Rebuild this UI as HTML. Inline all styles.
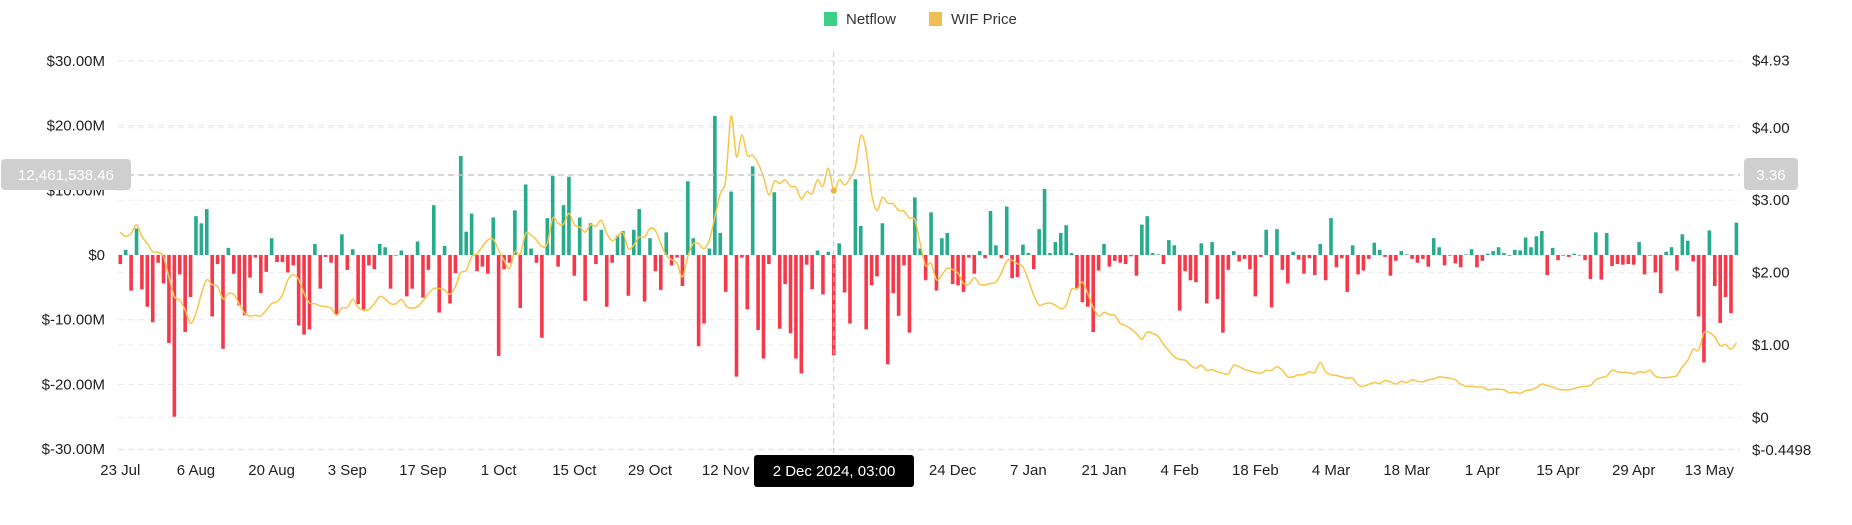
<!DOCTYPE html>
<html><head><meta charset="utf-8"><style>
html,body{margin:0;padding:0;background:#fff;}
svg{display:block;font-family:"Liberation Sans",sans-serif;}
</style></head><body>
<svg id="chart" width="1852" height="525" viewBox="0 0 1852 525">
  <g id="legend">
    <g>
      <rect x="824" y="12" width="13" height="14" fill="#3ccf86"/>
      <text x="846" y="24" font-size="15" fill="#333">Netflow</text>
    </g>
    <g>
      <rect x="929" y="12" width="13" height="14" fill="#eec053"/>
      <text x="951" y="24" font-size="15" fill="#333">WIF Price</text>
    </g>
  </g>
  <g id="grid"></g>
  <g id="leftAxis"></g>
  <g id="rightAxis"></g>
  <g id="xAxis"></g>
  <g id="bars"></g>
  <path id="priceLine" fill="none" stroke="#f7c548" stroke-width="1.5"/>
  <g id="crosshair"></g>
</svg>
<script>
const netflow = [
-1.4,0.8,-5.5,4.1,-5.3,-8.0,-10.4,-1.2,-4.4,-13.6,-25,-3.0,-11.9,-6.5,6.0,4.9,7.1,-9.5,-1.4,-14.5,1.1,-2.9,-7.8,-9.3,-3.5,-0.4,-5.9,-2.6,2.6,-1.1,-1.1,-2.7,-1.6,-10.9,-12.3,-11.5,1.7,-5.2,-0.3,-1.2,-9.2,3.2,-2.3,0.9,-7.6,-8.4,-1.6,-2.2,1.7,1.2,-5.2,
-0.1,0.7,-6.4,-5.2,2.1,-6.6,-2.3,7.7,-8.9,1.4,-7.5,-2.8,15.3,3.6,6.4,-2.5,-1.8,-2.9,5.8,-15.6,-2.2,-1.2,6.9,-8.2,10.9,1.0,-1.2,-12.8,5.7,12.2,-1.8,7.7,12.1,-3.2,5.8,-7.1,4.9,-1.4,3.9,-8.0,-1.2,3.0,3.7,-6.3,3.9,7.1,-7.2,2.6,-2.5,-5.4,3.5,-1.6,
-0.4,-4.8,11.4,2.6,-14.1,-10.6,1.0,21.5,3.4,-5.7,9.8,-18.8,-0.4,-8.4,13.7,-11.6,-16.0,-1.4,9.7,-11.4,-4.5,-12.1,-16.0,-18.3,-1.5,-5.3,0.7,-6.1,0.5,-15.5,1.8,-5.8,-10.6,11.7,4.5,-11.5,-4.7,-3.3,4.9,-16.9,-5.9,-9.4,-1.6,-12.0,8.9,1.0,-3.9,6.6,-5.5,2.6,3.4,-4.5,
-4.7,-5.7,-0.4,-2.9,0.6,-0.5,6.8,1.5,-0.5,7.5,-3.6,-3.4,1.6,0.3,-2.2,4.0,10.2,0.3,2.0,3.4,4.6,0.3,-5.1,-7.3,-8.0,-11.9,-2.4,1.7,-1.8,-0.9,-1.2,-1.4,-0.2,-3.2,4.7,6.0,0.3,0.1,-1.4,2.3,1.5,-8.6,-2.5,-3.9,-4.2,1.8,-7.5,2.0,-6.8,-12.0,-2.3,0.6,
-1.0,-0.6,-2.2,-6.4,-0.3,3.9,-8.1,4.0,-2.3,-4.4,0.5,-0.7,-2.9,-0.5,-3.1,1.7,-3.9,5.7,-1.9,-0.5,-5.7,1.5,-3.0,-2.4,-0.6,1.9,0.8,-0.3,-3.2,-0.9,0.6,0.1,-0.6,-1.2,-0.6,-1.8,2.6,1.2,-1.6,-0.1,-1.3,-1.9,0.1,0.9,-1.9,-0.9,0.2,0.6,1.2,0.3,-0.1,0.8,
0.7,2.7,1.2,2.9,3.7,-3.1,1.1,-0.8,-0.1,-0.3,0.2,0,-0.8,-3.7,3.5,-3.8,3.4,-1.7,-1.4,-1.5,-1.4,-1.5,2.0,-3.0,-0.1,-2.7,-5.9,0.5,1.2,-2.4,3.2,2.2,-1.0,-9.5,-16.6,3.8,-4.8,-10.5,-6.5,-9.0,5.0
];
const price = [
2.56,2.50,2.54,2.66,2.50,2.40,2.29,2.28,2.22,1.94,1.67,1.62,1.48,1.30,1.44,1.71,1.90,1.83,1.81,1.64,1.71,1.70,1.57,1.44,1.40,1.41,1.40,1.48,1.57,1.60,1.69,1.90,1.97,1.90,1.71,1.58,1.57,1.54,1.53,1.51,1.41,1.51,1.52,1.63,1.52,1.48,1.49,1.57,1.67,1.64,1.57,
1.57,1.63,1.53,1.51,1.53,1.61,1.71,1.78,1.78,1.76,1.70,1.81,2.00,2.03,2.22,2.26,2.36,2.45,2.46,2.31,2.17,2.06,2.29,2.26,2.54,2.52,2.45,2.36,2.40,2.75,2.68,2.67,2.82,2.66,2.63,2.56,2.66,2.64,2.72,2.54,2.44,2.50,2.55,2.33,2.38,2.49,2.49,2.61,2.58,2.40,2.24,2.18,
2.13,1.94,2.22,2.40,2.40,2.33,2.45,2.77,3.09,3.28,4.16,3.60,3.90,3.62,3.62,3.51,3.32,3.07,3.26,3.23,3.28,3.19,3.18,3.02,3.12,3.09,3.28,3.19,3.44,3.13,3.28,3.21,3.30,3.46,3.89,3.69,3.09,2.86,3.04,2.96,2.95,2.86,2.85,2.75,2.73,2.40,2.10,2.13,1.90,1.97,2.06,2.04,
1.99,1.85,1.84,1.93,1.84,1.83,1.85,1.87,1.99,2.16,2.17,2.12,2.08,1.90,1.69,1.55,1.57,1.58,1.55,1.50,1.55,1.77,1.77,1.87,1.71,1.52,1.40,1.45,1.42,1.41,1.30,1.27,1.22,1.16,1.08,1.18,1.16,1.12,1.01,0.92,0.84,0.80,0.79,0.72,0.68,0.72,0.65,0.66,0.63,0.61,0.60,0.72,
0.70,0.66,0.64,0.62,0.61,0.65,0.65,0.70,0.65,0.56,0.56,0.59,0.59,0.63,0.62,0.76,0.63,0.59,0.58,0.56,0.54,0.54,0.45,0.43,0.46,0.48,0.47,0.51,0.49,0.46,0.50,0.48,0.52,0.50,0.49,0.52,0.53,0.56,0.55,0.54,0.52,0.46,0.43,0.43,0.42,0.42,0.38,0.39,0.39,0.38,0.34,0.35,
0.33,0.37,0.38,0.41,0.46,0.44,0.42,0.39,0.38,0.38,0.40,0.42,0.43,0.44,0.52,0.55,0.57,0.65,0.63,0.62,0.62,0.60,0.63,0.62,0.65,0.57,0.55,0.55,0.56,0.58,0.70,0.79,0.94,0.93,1.17,1.17,1.11,0.99,1.01,0.94,1.03
];
const leftTicks = [30,20,10,0,-10,-20,-30];
const leftTickLabels = ["$30.00M","$20.00M","$10.00M","$0","$-10.00M","$-20.00M","$-30.00M"];
const rightTicks = [4.93,4,3,2,1,0,-0.4498];
const rightTickLabels = ["$4.93","$4.00","$3.00","$2.00","$1.00","$0","$-0.4498"];
const xLabels = ["23 Jul","6 Aug","20 Aug","3 Sep","17 Sep","1 Oct","15 Oct","29 Oct","12 Nov","26 Nov","10 Dec","24 Dec","7 Jan","21 Jan","4 Feb","18 Feb","4 Mar","18 Mar","1 Apr","15 Apr","29 Apr","13 May"];
const hoverIndex = 132;

const NS="http://www.w3.org/2000/svg";
const x0=120.3, step=5.405, plotL=118, plotR=1740;
const xS=i=>x0+i*step;
const yL=v=>255-v*6.47;
const yR=p=>417.4-p*72.4;
function mk(tag,attrs,parent){const e=document.createElementNS(NS,tag);for(const k in attrs)e.setAttribute(k,attrs[k]);parent.appendChild(e);return e;}

const grid=document.getElementById('grid');
leftTicks.forEach(v=>{const l=mk('line',{x1:plotL,x2:plotR,y1:yL(v),y2:yL(v),stroke:'#e8e8e8','stroke-dasharray':'6,4'},grid);

});
rightTicks.forEach(p=>{const l=mk('line',{x1:plotL,x2:plotR,y1:yR(p),y2:yR(p),stroke:'#ececec','stroke-dasharray':'6,4'},grid);

});

const la=document.getElementById('leftAxis');
leftTicks.forEach((v,i)=>{const t=mk('text',{x:105,y:yL(v)+5,'text-anchor':'end','font-size':'15',fill:'#222'},la);t.textContent=leftTickLabels[i];

});
const ra=document.getElementById('rightAxis');
rightTicks.forEach((p,i)=>{const t=mk('text',{x:1752,y:yR(p)+5,'font-size':'15',fill:'#222'},ra);t.textContent=rightTickLabels[i];

});
const xa=document.getElementById('xAxis');
xLabels.forEach((s,i)=>{const t=mk('text',{x:xS(i*14),y:475,'text-anchor':'middle','font-size':'15',fill:'#222'},xa);t.textContent=s;

});

const bars=document.getElementById('bars');
netflow.forEach((v,i)=>{const y0=yL(0),y1=yL(v);
const r=mk('rect',{x:xS(i)-1.8,y:Math.min(y0,y1),width:3.6,height:Math.max(0.6,Math.abs(y1-y0)),fill:v>=0?'#27ab8d':'#f5394b'},bars);

});

const pts=price.map((p,i)=>[xS(i),yR(p)]);
let d='M'+pts[0][0]+','+pts[0][1];
for(let i=0;i<pts.length-1;i++){const p0=pts[i-1]||pts[i],p1=pts[i],p2=pts[i+1],p3=pts[i+2]||p2;
const c1=[p1[0]+(p2[0]-p0[0])/6,p1[1]+(p2[1]-p0[1])/6],c2=[p2[0]-(p3[0]-p1[0])/6,p2[1]-(p3[1]-p1[1])/6];
d+=` C${c1[0].toFixed(1)},${c1[1].toFixed(1)} ${c2[0].toFixed(1)},${c2[1].toFixed(1)} ${p2[0].toFixed(1)},${p2[1].toFixed(1)}`;}
document.getElementById('priceLine').setAttribute('d',d);

const ch=document.getElementById('crosshair');
const hx=xS(hoverIndex);
const vl=mk('line',{x1:hx,x2:hx,y1:52,y2:455,stroke:'#c8c8c8','stroke-dasharray':'5,4'},ch);


const hl=mk('line',{x1:plotL,x2:plotR,y1:175,y2:175,stroke:'#c8c8c8','stroke-dasharray':'6,4','stroke-width':'1.5'},ch);


const dot=mk('circle',{cx:hx,cy:yR(price[hoverIndex]),r:3,fill:'#e8b53e'},ch);


const lb=mk('rect',{x:1,y:159,width:130,height:31,rx:4,fill:'#cfcfcf'},ch);


const lt=mk('text',{x:66,y:180,'text-anchor':'middle','font-size':'15',fill:'#fff'},ch);lt.textContent='12,461,538.46';


const rb=mk('rect',{x:1744,y:158,width:54,height:32,rx:4,fill:'#cfcfcf'},ch);


const rt=mk('text',{x:1771,y:180,'text-anchor':'middle','font-size':'15',fill:'#fff'},ch);rt.textContent='3.36';


const tb=mk('rect',{x:754,y:455,width:160,height:32,rx:3,fill:'#000'},ch);


const tt=mk('text',{x:834,y:476,'text-anchor':'middle','font-size':'15',fill:'#fff'},ch);tt.textContent='2 Dec 2024, 03:00';


</script>
</body></html>
